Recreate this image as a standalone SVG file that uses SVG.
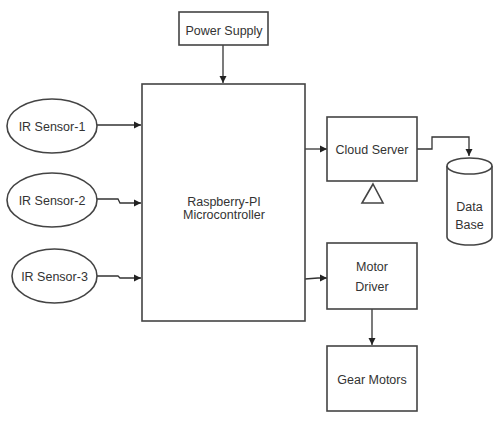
<svg xmlns="http://www.w3.org/2000/svg" width="500" height="421" viewBox="0 0 500 421">
<style>
.box{fill:#fff;stroke:#444;stroke-width:1.6}
.ln{fill:none;stroke:#333;stroke-width:1.3}
text{font-family:"Liberation Sans",Arial,sans-serif;font-size:12.5px;fill:#333;text-anchor:middle}
</style>
<defs>
<marker id="ah" markerWidth="8" markerHeight="8" refX="7" refY="4" orient="auto" markerUnits="userSpaceOnUse">
<path d="M0,0.5 L7,4 L0,7.5 Z" fill="#222"/>
</marker>
</defs>
<rect width="500" height="421" fill="#fff"/>
<g id="connectors">
<path class="ln" d="M223,45 V83" marker-end="url(#ah)"/>
<path class="ln" d="M97,125 H141" marker-end="url(#ah)"/>
<path class="ln" d="M97,199 H118 L120,203 H141" marker-end="url(#ah)"/>
<path class="ln" d="M97,276 H118 L120,278 H141" marker-end="url(#ah)"/>
<path class="ln" d="M305,149 H327" marker-end="url(#ah)"/>
<path class="ln" d="M305,279 L318,278 H327" marker-end="url(#ah)"/>
<path class="ln" d="M417,149 H432 V137 H469 V156" marker-end="url(#ah)"/>
<path class="ln" d="M372,309 V345" marker-end="url(#ah)"/>
</g>
<g id="power-supply">
<rect class="box" x="179" y="12" width="89" height="33"/>
<text x="224" y="34.5">Power Supply</text>
</g>
<g id="raspberry-pi">
<rect class="box" x="142" y="84" width="163" height="237"/>
<text x="224" y="206">Raspberry-PI</text>
<text x="224" y="219">Microcontroller</text>
</g>
<g id="ir-sensor-1">
<ellipse class="box" cx="52" cy="126" rx="45" ry="27"/>
<text x="52" y="130.5">IR Sensor-1</text>
</g>
<g id="ir-sensor-2">
<ellipse class="box" cx="52" cy="200" rx="45" ry="27"/>
<text x="52" y="204.5">IR Sensor-2</text>
</g>
<g id="ir-sensor-3">
<ellipse class="box" cx="54.5" cy="276" rx="42.5" ry="27"/>
<text x="54.5" y="280.5">IR Sensor-3</text>
</g>
<g id="cloud-server">
<rect class="box" x="327" y="117" width="90" height="64"/>
<text x="372" y="153.5">Cloud Server</text>
<path class="box" d="M373,184 L383,203 H362 Z"/>
</g>
<g id="data-base">
<path class="box" d="M447,166 A22.5,8 0 0 1 492,166 V237 A22.5,8 0 0 1 447,237 Z"/>
<path class="box" d="M447,166 A22.5,8 0 0 0 492,166" fill="none"/>
<text x="469.5" y="211">Data</text>
<text x="469.5" y="229">Base</text>
</g>
<g id="motor-driver">
<rect class="box" x="327" y="243" width="90" height="66"/>
<text x="372" y="271">Motor</text>
<text x="372" y="291">Driver</text>
</g>
<g id="gear-motors">
<rect class="box" x="327" y="346" width="90" height="65"/>
<text x="372" y="384">Gear Motors</text>
</g>
</svg>
